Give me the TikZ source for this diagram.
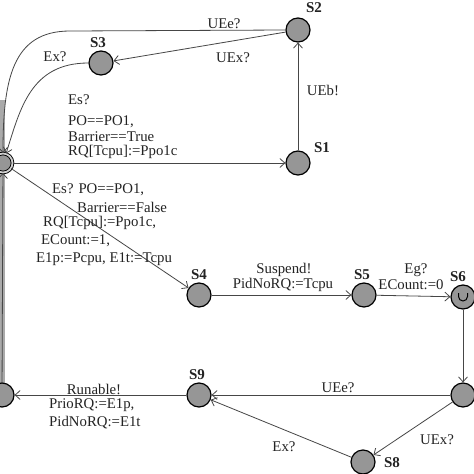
\documentclass[tikz,border=0pt]{standalone}
\usepackage{fontspec}
\setmainfont{Liberation Serif}
\usetikzlibrary{arrows.meta}
\definecolor{stategray}{RGB}{150,150,150}
\definecolor{linegray}{RGB}{70,70,70}
\definecolor{textgray}{RGB}{35,35,35}
\definecolor{stripgray}{RGB}{170,170,170}
\tikzset{
  state/.style={circle, draw=black, line width=1.2pt, fill=stategray, minimum size=24pt, inner sep=0pt},
  initstate/.style={circle, draw=black, line width=0.9pt, double=stategray!45, double distance=1.8pt, fill=stategray, minimum size=19pt, inner sep=0pt},
  edge/.style={draw=linegray, line width=0.8pt, -{Straight Barb[length=5pt,width=9pt]}},
  lab/.style={font=\fontsize{14.8}{16}\selectfont, text=textgray, inner sep=0pt},
  sname/.style={font=\bfseries\fontsize{15}{16}\selectfont, text=textgray, inner sep=0pt}
}
\begin{document}
\begin{tikzpicture}[x=1pt,y=-1pt]
\useasboundingbox[fill=white] (0,0) rectangle (474,474);
\fill[stripgray] (0,100) rectangle (4.5,385);
% states
\node[initstate] (s0) at (3,163) {};
\node[state] (s1) at (298,163) {};
\node[state] (s2) at (298,30) {};
\node[state] (s3) at (101,63) {};
\node[state] (s4) at (199,295) {};
\node[state] (s5) at (364,295) {};
\node[state] (s6) at (463,297) {};
\node[state] (s7) at (463,395) {};
\node[state] (s8) at (363,462) {};
\node[state] (s9) at (199,395) {};
\node[state] (s10) at (2,395) {};
\draw[line width=1pt, black] ([xshift=-4.5pt,yshift=4pt]s6.center) -- ++(0pt,-3.5pt) arc (180:360:4.5pt) -- ++(0pt,3.5pt);
% state names
\node[sname] (n1) at (322,148) {S1};
\node[sname] (n2) at (314,8) {S2};
\node[sname] (n3) at (98,43) {S3};
\node[sname] (n4) at (199,275) {S4};
\node[sname] (n5) at (362,275) {S5};
\node[sname] (n6) at (458,277) {S6};
\node[sname] (n8) at (392,463) {S8};
\node[sname] (n9) at (197,375) {S9};
% edges
\draw[edge] (s0) -- (s1);
\draw[edge] (s1) -- (s2);
\draw[edge] (s2) -- (s3);
\coordinate (c2) at (70,31);
\draw[edge] (s2.west) -- (c2) .. controls (12,31) and (3,80) .. (s0);
\draw[edge] (s3) .. controls (30,63) and (20,110) .. (s0);
\draw[edge] (s0) -- (s4);
\draw[edge] (s4) -- (s5);
\draw[edge] (s5) -- (s6);
\draw[edge] (s6) -- (s7);
\draw[edge] (s7) -- (s9);
\draw[edge] (s7) -- (s8);
\draw[edge] (s8) -- (s9);
\draw[edge] (s9) -- (s10);
\draw[edge] (s10) -- (s0);
% edge labels
\node[lab] (l1) at (224,24) {UEe?};
\node[lab] (l2) at (233,58) {UEx?};
\node[lab] (l3) at (55,57) {Ex?};
\node[lab] (l4) at (323,90) {UEb!};
\node[lab, anchor=west] (l5a) at (68,100) {Es?};
\node[lab, anchor=west] (l5b) at (68,122) {PO==PO1,};
\node[lab, anchor=west] (l5c) at (68,137) {Barrier==True};
\node[lab, anchor=west] (l5d) at (68,152) {RQ[Tcpu]:=Ppo1c};
\node[lab, anchor=west] (l6a) at (52,190) {Es? PO==PO1,};
\node[lab, anchor=west] (l6b) at (77,207) {Barrier==False};
\node[lab, anchor=west] (l6c) at (43,223) {RQ[Tcpu]:=Ppo1c,};
\node[lab, anchor=west] (l6d) at (41,241) {ECount:=1,};
\node[lab, anchor=west] (l6e) at (36,259) {E1p:=Pcpu, E1t:=Tcpu};
\node[lab] (l7a) at (284,270) {Suspend!};
\node[lab] (l7b) at (283,285) {PidNoRQ:=Tcpu};
\node[lab] (l8a) at (416,270) {Eg?};
\node[lab] (l8b) at (411,285) {ECount:=0};
\node[lab] (l9) at (338,388) {UEe?};
\node[lab] (l10) at (437,440) {UEx?};
\node[lab] (l11) at (284,447) {Ex?};
\node[lab] (l12a) at (94,389) {Runable!};
\node[lab, anchor=west] (l12b) at (49,405) {PrioRQ:=E1p,};
\node[lab, anchor=west] (l12c) at (49,423) {PidNoRQ:=E1t};
\end{tikzpicture}
\end{document}
